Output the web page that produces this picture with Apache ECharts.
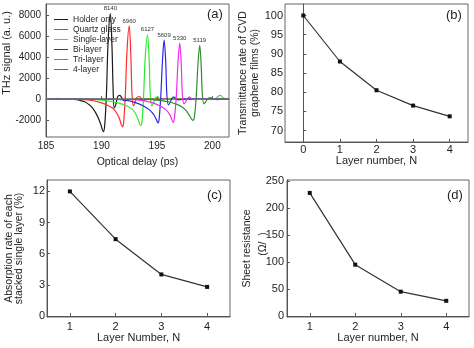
<!DOCTYPE html>
<html><head><meta charset="utf-8">
<script src="https://cdn.jsdelivr.net/npm/echarts@6/dist/echarts.min.js"></script>
<style>html,body{margin:0;padding:0;background:#fff}#c{width:474px;height:348px}</style>
</head><body><div id="c"></div>
<script>
// ---------- Panel (a): THz time-domain waveforms [delay ps, signal a.u.] ----------
const holderOnly = [[185,0],[186.5,0],[187.5,-30],[188,-100],[188.5,-250],[188.9,-540],[189.2,-850],[189.5,-1330],[189.8,-2000],[189.95,-2440],[190.1,-2950],[190.18,-3100],[190.3,-2400],[190.45,500],[190.6,5500],[190.8,8140],[190.95,5000],[191.05,1000],[191.15,-825],[191.3,-500],[191.45,200],[191.66,350],[191.85,100],[192.1,-150],[192.4,-80],[193,0],[201.5,0]];
const quartzGlass = [[185,0],[187.5,0],[188.5,-50],[189.3,-150],[190,-350],[190.5,-550],[191,-850],[191.3,-1200],[191.6,-1800],[191.8,-2450],[191.9,-2650],[192,-2250],[192.15,300],[192.3,4500],[192.5,6960],[192.65,4200],[192.75,600],[192.88,-640],[193,-400],[193.15,100],[193.4,250],[193.6,50],[193.8,-100],[194.2,0],[201.5,0]];
const singleLayer = [[185,0],[188.5,0],[189.5,-50],[190.5,-150],[191.5,-350],[192.2,-600],[192.7,-900],[193,-1250],[193.3,-1900],[193.45,-2400],[193.55,-2500],[193.65,-2200],[193.8,300],[193.95,4000],[194.15,6127],[194.3,3800],[194.4,500],[194.54,-640],[194.7,-350],[194.85,100],[195.05,220],[195.25,30],[195.5,-80],[196,0],[200.2,0],[200.5,250],[200.75,350],[201,100],[201.5,0]];
const biLayer = [[185,0],[191,0],[192,-80],[193,-300],[193.8,-650],[194.3,-1000],[194.7,-1450],[194.95,-1950],[195.1,-2250],[195.2,-1900],[195.35,300],[195.5,3600],[195.65,5609],[195.8,3400],[195.9,400],[196.04,-540],[196.2,-300],[196.35,80],[196.55,190],[196.75,20],[197,-60],[197.5,0],[201.5,0]];
const triLayer = [[185,0],[185.6,0],[186.1,80],[186.6,0],[192.5,0],[193.5,-100],[194.5,-300],[195.3,-650],[195.8,-1000],[196.15,-1450],[196.35,-1950],[196.46,-2200],[196.58,-1800],[196.75,300],[196.9,3500],[197.06,5330],[197.2,3200],[197.3,400],[197.45,-450],[197.6,-250],[197.75,80],[197.96,190],[198.15,20],[198.4,-50],[198.9,0],[201.5,0]];
const fourLayer = [[185,0],[194,0],[195,-100],[196,-250],[196.8,-500],[197.3,-760],[197.6,-1050],[197.9,-1490],[198.1,-1850],[198.26,-2030],[198.38,-1700],[198.55,300],[198.7,3300],[198.86,5119],[199,3000],[199.1,400],[199.25,-450],[199.4,-250],[199.6,60],[199.85,150],[200.05,20],[200.4,-40],[200.8,0],[201.5,0]];
const aSeriesNames = ['Holder only','Quartz glass','Single-layer','Bi-layer','Tri-layer','4-layer'];
const aXTicks = [185,190,195,200];
const aYTicks = [-2000,0,2000,4000,6000,8000];

// ---------- Panel (b) ----------
const bLayers = [0,1,2,3,4];
const bTransmittance = [100,88,80.5,76.5,73.7];
const bYTicks = [70,75,80,85,90,95,100];

// ---------- Panel (c) ----------
const cLayers = [1,2,3,4];
const cAbsorption = [12,7.4,4.0,2.8];
const cYTicks = [0,3,6,9,12];

// ---------- Panel (d) ----------
const dLayers = [1,2,3,4];
const dResistance = [228,95,45,28];
const dYTicks = [0,50,100,150,200,250];

const FONT = 'Liberation Sans, Arial, sans-serif';
const TXT = '#1e1e1e';
const AX = '#555';
const aColors = ['#1a1a1a','#ff2a2a','#2ee82e','#2a2ae6','#f02cf0','#2f8f2f'];

function zipXY(xs, ys){ return xs.map((x,i)=>[x, ys[i]]); }
const plain = v => String(v);

function xAxisCfg(idx, min, max, ticks, fs, margin, name, nameGap, nfs){
  return {type:'value', gridIndex:idx, min:min, max:max,
    axisLine:{show:true, lineStyle:{color:AX, width:1}},
    axisTick:{show:true, inside:true, length:3, customValues:ticks, lineStyle:{color:AX}},
    axisLabel:{customValues:ticks, formatter:plain, fontSize:fs, color:TXT, fontFamily:FONT, margin:margin},
    splitLine:{show:false},
    name:name, nameLocation:'middle', nameGap:nameGap,
    nameTextStyle:{fontSize:nfs, color:TXT, fontFamily:FONT}};
}
function yAxisCfg(idx, min, max, ticks, fs, margin, name, nameGap, nfs, lh){
  return {type:'value', gridIndex:idx, min:min, max:max,
    axisLine:{show:true, lineStyle:{color:AX, width:1}},
    axisTick:{show:true, inside:true, length:3, customValues:ticks, lineStyle:{color:AX}},
    axisLabel:{customValues:ticks, formatter:plain, fontSize:fs, color:TXT, fontFamily:FONT, margin:margin},
    splitLine:{show:false},
    name:name, nameLocation:'middle', nameGap:nameGap, nameRotate:90,
    nameTextStyle:{fontSize:nfs, color:TXT, fontFamily:FONT, lineHeight:lh}};
}

const aData = [holderOnly, quartzGlass, singleLayer, biLayer, triLayer, fourLayer];
const aSeries = aData.map((d,i)=>({
  type:'line', name:aSeriesNames[i], xAxisIndex:0, yAxisIndex:0, data:d,
  symbol:'none', smooth:0.35, lineStyle:{width:1.2, color:aColors[i]}, itemStyle:{color:aColors[i]},
  markPoint:{symbol:'circle', symbolSize:0, data:[{type:'max'}],
    label:{show:true, position:'top', distance:2, fontSize:6, color:'#333', fontFamily:FONT,
      formatter:p=>String(p.value)}}
}));

function simpleLine(xi, data){
  return {type:'line', xAxisIndex:xi, yAxisIndex:xi, data:data, symbol:'rect', symbolSize:4,
    lineStyle:{color:'#333', width:1.2}, itemStyle:{color:'#111'}};
}

const yA = yAxisCfg(0, -3600, 9050, aYTicks, 10, 5, '', 34, 11, 12);

const option = {
  animation:false,
  textStyle:{fontFamily:FONT},
  grid:[
    {left:46, top:4, width:183, height:133, show:true, borderColor:'#666', borderWidth:1},
    {left:285, top:4, width:183, height:138, show:true, borderColor:'#666', borderWidth:1},
    {left:47, top:180, width:183, height:137, show:true, borderColor:'#666', borderWidth:1},
    {left:287, top:180, width:182, height:137, show:true, borderColor:'#666', borderWidth:1}
  ],
  legend:{data:aSeriesNames, orient:'vertical', left:49, top:10, itemWidth:14, itemHeight:8, itemGap:1,
    textStyle:{fontSize:8.5, color:TXT, fontFamily:FONT}, icon:'path://M0,4L14,4L14,5L0,5Z'},
  xAxis:[
    xAxisCfg(0, 185, 201.5, aXTicks, 10, 4, 'Optical delay (ps)', 20, 10.5),
    xAxisCfg(1, -0.5, 4.5, bLayers, 11, 2, 'Layer number, N', 11, 11),
    xAxisCfg(2, 0.5, 4.5, cLayers, 11, 4, 'Layer Number, N', 14, 11),
    xAxisCfg(3, 0.5, 4.5, dLayers, 11, 4, 'Layer number, N', 15, 11)
  ],
  yAxis:[
    yA,
    yAxisCfg(1, 67, 103, bYTicks, 11, 2, 'Transmittance rate of CVD\ngraphene films (%)', 21, 10.5, 12),
    yAxisCfg(2, -0.1, 13.1, cYTicks, 11, 2, 'Absorption rate of each\nstacked single layer (%)', 23, 10.5, 10),
    yAxisCfg(3, -2, 252, dYTicks, 11, 3, 'Sheet resistance', 34, 10.5, 12)
  ],
  series: aSeries.concat([
    simpleLine(1, zipXY(bLayers, bTransmittance)),
    simpleLine(2, zipXY(cLayers, cAbsorption)),
    simpleLine(3, zipXY(dLayers, dResistance))
  ]),
  graphic:[
    {type:'text', x:7, y:53, rotation:Math.PI/2,
      style:{text:'THz signal (a. u.)', fontSize:11, fill:TXT, fontFamily:FONT, align:'center', verticalAlign:'middle'}},
    {type:'text', left:207, top:8, style:{text:'(a)', fontSize:13, fill:TXT, fontFamily:FONT}},
    {type:'text', left:446, top:9, style:{text:'(b)', fontSize:13, fill:TXT, fontFamily:FONT}},
    {type:'text', left:207, top:189, style:{text:'(c)', fontSize:13, fill:TXT, fontFamily:FONT}},
    {type:'text', left:447, top:189, style:{text:'(d)', fontSize:13, fill:TXT, fontFamily:FONT}},
    {type:'text', x:263, y:244, rotation:Math.PI/2,
      style:{text:'(Ω/  )', fontSize:10.5, fill:TXT, fontFamily:FONT, align:'center', verticalAlign:'middle'}}
  ]
};
const chart = echarts.init(document.getElementById('c'), null, {renderer:'canvas'});
chart.setOption(option);
</script></body></html>
